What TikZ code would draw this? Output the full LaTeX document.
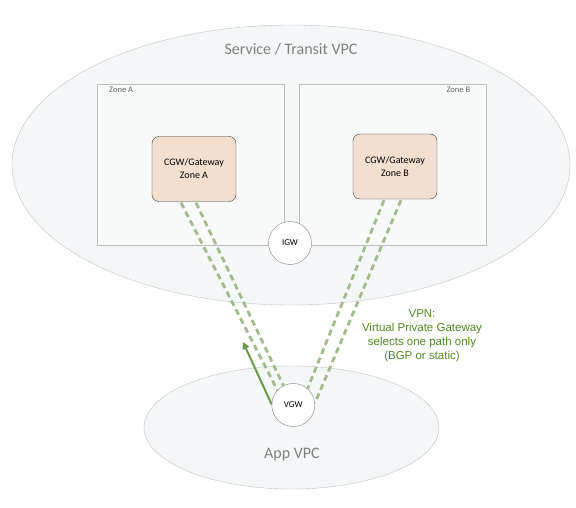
\documentclass[tikz,border=0pt]{standalone}
\usepackage{fontspec}
\setmainfont{Carlito}
\newfontfamily\vpnfont{Liberation Sans}
\usepackage{tikz}
\usetikzlibrary{positioning,shapes,calc,arrows.meta}
\definecolor{vpcfill}{HTML}{F4F7F8}
\definecolor{vpcline}{HTML}{BFC4C6}
\definecolor{zonefill}{HTML}{F8FAFA}
\definecolor{zoneline}{HTML}{BCBCBC}
\definecolor{cgwfill}{HTML}{F3DFCF}
\definecolor{tunnelgreen}{HTML}{A0BC8A}
\definecolor{arrowgreen}{HTML}{6A9A48}
\definecolor{vpngreen}{HTML}{4E8A1E}
\definecolor{labelgray}{HTML}{7F7F7F}

\begin{document}
\begin{tikzpicture}[x=1pt,y=-1pt,
    vpc/.style={ellipse,draw=vpcline,fill=vpcfill,inner sep=0pt},
    zone/.style={rectangle,draw=zoneline,fill=zonefill,anchor=north west,inner sep=0pt,minimum width=187pt,minimum height=161pt},
    zonelabel/.style={font=\fontsize{8.5}{10}\selectfont,text=labelgray!80!black,inner sep=0pt},
    gateway/.style={rectangle,rounded corners=7pt,draw=black!80,fill=cgwfill,minimum width=84pt,minimum height=65pt,align=center,font=\fontsize{10}{13}\selectfont},
    router/.style={circle,draw=gray,fill=white,minimum size=43pt,inner sep=0pt,font=\fontsize{9}{11}\selectfont},
    vpctitle/.style={font=\fontsize{16}{18}\selectfont,text=labelgray},
    tunnel/.style={draw=tunnelgreen,line width=2.8pt,dash pattern=on 6pt off 4pt},
    ]
  \useasboundingbox[fill=white] (0,0) rectangle (576,508);
  \node[vpc,minimum width=558pt,minimum height=280pt] (transit) at (291,165) {};
  \node[vpctitle] (transittitle) at (291,49) {Service / Transit VPC};
  \node[zone] (zonea) at (97,84) {};
  \node[zone] (zoneb) at (299,84) {};
  \node[zonelabel,anchor=north west] (zonealabel) at ($(zonea.north west)+(12,2.5)$) {Zone A};
  \node[zonelabel,anchor=north east] (zoneblabel) at ($(zoneb.north east)+(-16,2.5)$) {Zone B};
  \node[gateway] (cgwa) at (194,169) {CGW/Gateway\\Zone A};
  \node[gateway] (cgwb) at (395,166.5) {CGW/Gateway\\Zone B};
  \node[router] (igw) at (290,243) {IGW};
  \node[vpc,minimum width=295pt,minimum height=123pt] (app) at (291.5,427.5) {};
  \node[vpctitle] (apptitle) at (292,455) {App VPC};
  \node[router] (vgw) at (293.3,405) {VGW};
  \draw[tunnel] ($(cgwa.south)+(-13,1)$) -- (vgw.137);
  \draw[tunnel] ($(cgwa.south)+(2,1)$) -- (vgw.117);
  \draw[tunnel] ($(cgwb.south)+(-11,1)$) -- (vgw.49);
  \draw[tunnel] ($(cgwb.south)+(6,1)$) -- (vgw.5);
  \coordinate (arrowtip) at (243,342);
  \draw[arrowgreen,line width=2pt,-{Triangle[length=7pt,width=7pt]}] (vgw.178) -- (arrowtip);
  \node[font=\vpnfont\fontsize{11.5}{14}\selectfont,text=vpngreen,align=center] (vpn) at (422,336) {VPN:\\Virtual Private Gateway\\selects one path only\\(BGP or static)};
\end{tikzpicture}
\end{document}
